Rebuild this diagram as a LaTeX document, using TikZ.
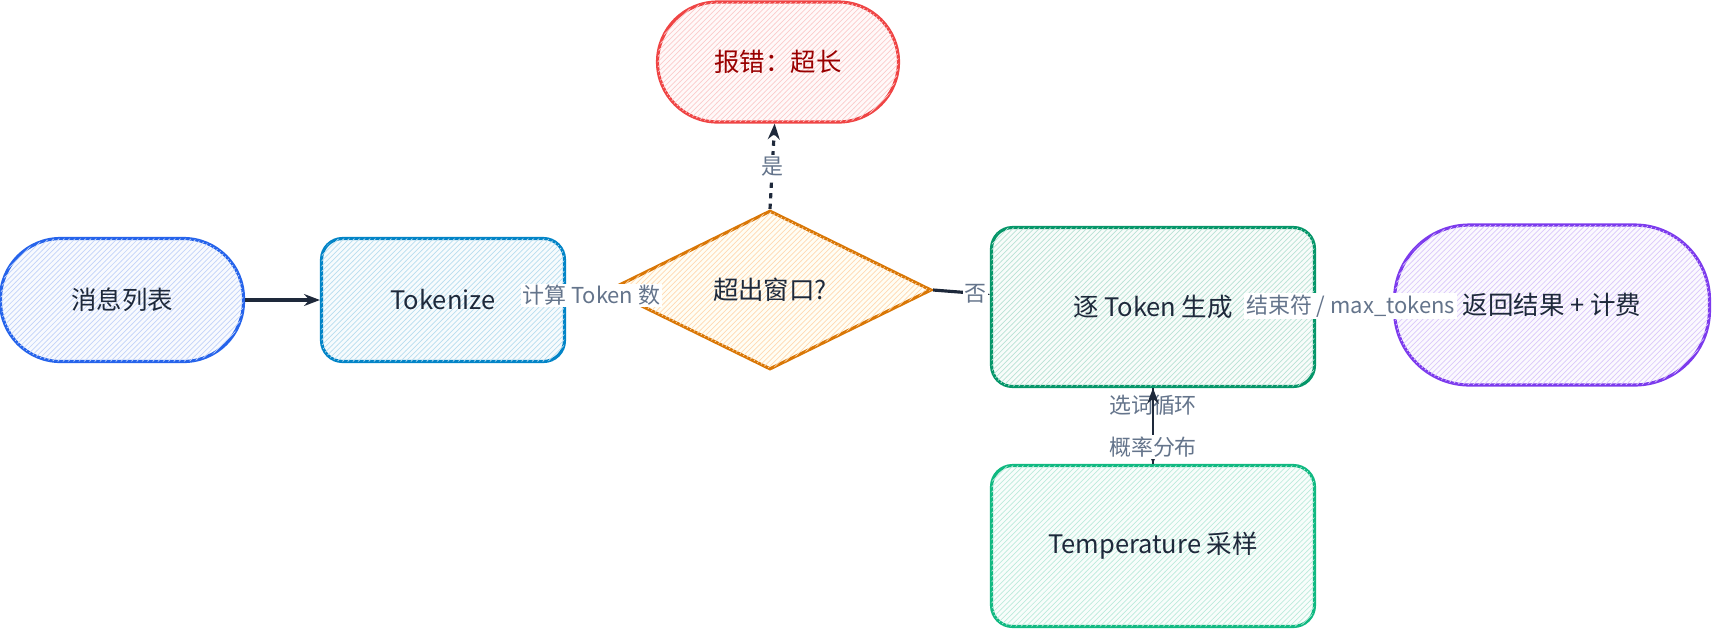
\documentclass[tikz,border=0pt]{standalone}
\usepackage{fontspec}
\setmainfont{Noto Sans CJK SC}
\usetikzlibrary{shapes.geometric,patterns,arrows.meta}
\definecolor{cblue}{HTML}{2563EB}
\definecolor{csky}{HTML}{0284C7}
\definecolor{corange}{HTML}{D97706}
\definecolor{cred}{HTML}{EF4444}
\definecolor{cgreen}{HTML}{059669}
\definecolor{cemer}{HTML}{10B981}
\definecolor{cpurple}{HTML}{7C3AED}
\definecolor{cedge}{HTML}{1E293B}
\definecolor{clabel}{HTML}{64748B}
\definecolor{ctext}{HTML}{1E293B}
\begin{document}
\begin{tikzpicture}[x=0.02cm,y=-0.02cm,
            box/.style = {draw=#1, line width=1.8pt, rounded corners=12pt,
                fill=#1!3, postaction={pattern=north east lines, pattern color=#1!28},
                minimum width=4.86cm, minimum height=2.46cm,
                font=\fontsize{14.5}{17}\selectfont, text=ctext},
            pill/.style = {box=#1, rounded corners=1.2cm},
            lbl/.style = {fill=white, text=clabel, inner sep=1pt,
                font=\fontsize{12.5}{15}\selectfont},
            flow/.style = {cedge, line width=1.8pt, -{Stealth[length=9pt]}}]
        \useasboundingbox (0,0) rectangle (1718,630);
        
        % Nodes
        \node[pill=cblue] (msgs) at (122,300) {消息列表};
        \node[box=csky] (tok) at (443,300) {Tokenize};
        \node[diamond, draw=corange, line width=1.8pt, fill=yellow!4,
            postaction={pattern=north east lines, pattern color=orange!30},
            minimum width=6.46cm, minimum height=3.18cm, aspect=2,
            inner sep=0pt, font=\fontsize{14.5}{17}\selectfont, text=ctext] (check) at (770,290) {超出窗口?};
        \node[pill=cred, minimum width=4.82cm, minimum height=2.4cm, text=red!60!black] (err) at (778,62) {报错：超长};
        \node[box=cgreen, minimum width=6.46cm, minimum height=3.18cm] (gen) at (1153,307) {逐 Token 生成};
        \node[pill=cpurple, minimum width=6.3cm, minimum height=3.2cm, rounded corners=1.5cm] (ret) at (1552,305) {返回结果 + 计费};
        \node[box=cemer, minimum width=6.46cm, minimum height=3.22cm] (temp) at (1153,546) {Temperature 采样};
        
        % Connectors
        \draw[flow] (msgs) -- (tok);
        \draw[flow] (tok) -- node[lbl] {计算 Token 数} (check);
        \draw[flow, dashed] (check.north) -- node[lbl] {是} (err);
        \draw[flow] (check.east) -- node[lbl, near end] {否} (gen);
        \draw[flow] (gen) -- node[lbl, pos=0.45] {结束符 / max\_tokens} (ret);
        \draw[flow, line width=1pt] (gen) -- node[lbl, pos=0.22] {选词循环} (temp);
        \draw[flow, line width=1pt] (temp) -- node[lbl, pos=0.22] {概率分布} (gen);
        
\end{tikzpicture}
\end{document}
